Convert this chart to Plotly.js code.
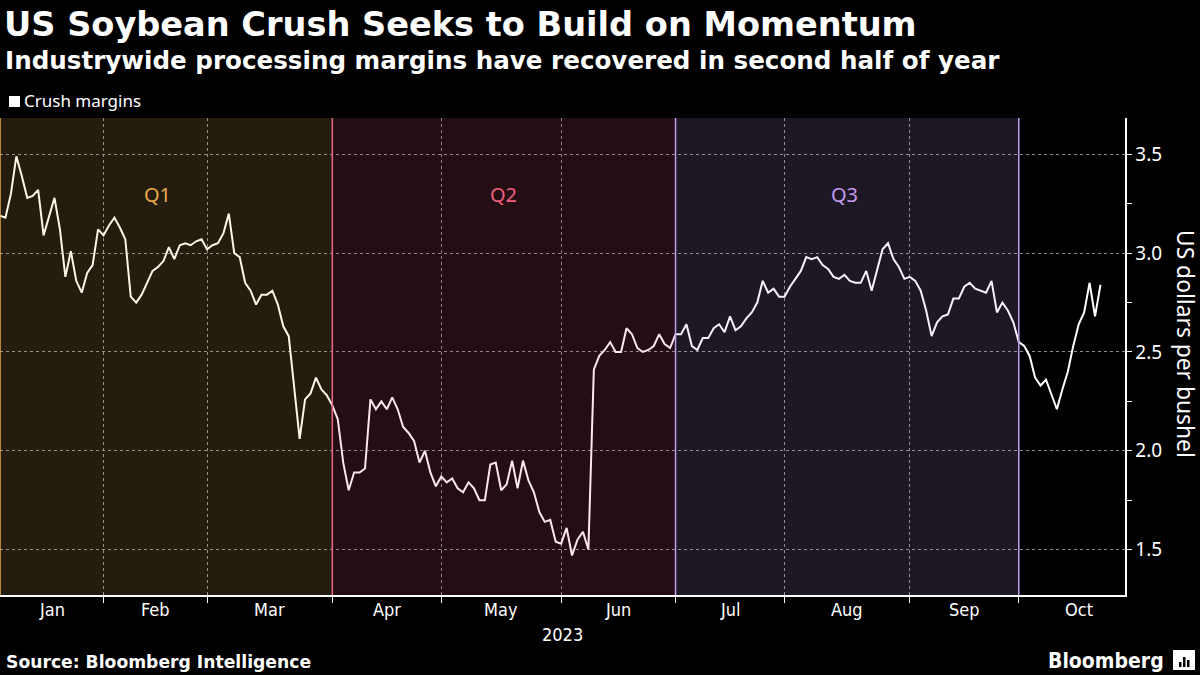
<!DOCTYPE html>
<html><head><meta charset="utf-8">
<script src="https://cdn.plot.ly/plotly-3.0.1.min.js"></script>
<style>html,body{margin:0;padding:0;background:#000;}#chart{width:1200px;height:675px;}</style>
</head><body><div id="chart"></div>
<script>
// ---- DATA ----
const dates = [
'2023-01-04','2023-01-05','2023-01-06','2023-01-09','2023-01-10','2023-01-11','2023-01-12','2023-01-13','2023-01-17','2023-01-18','2023-01-19','2023-01-20','2023-01-23','2023-01-24','2023-01-25','2023-01-26','2023-01-27','2023-01-30','2023-01-31',
'2023-02-01','2023-02-02','2023-02-03','2023-02-06','2023-02-07','2023-02-08','2023-02-09','2023-02-10','2023-02-13','2023-02-14','2023-02-15','2023-02-16','2023-02-17','2023-02-21','2023-02-22','2023-02-23','2023-02-24','2023-02-27','2023-02-28',
'2023-03-01','2023-03-02','2023-03-03','2023-03-06','2023-03-07','2023-03-08','2023-03-09','2023-03-10','2023-03-13','2023-03-14','2023-03-15','2023-03-16','2023-03-17','2023-03-20','2023-03-21','2023-03-22','2023-03-23','2023-03-24','2023-03-27','2023-03-28','2023-03-29','2023-03-30','2023-03-31',
'2023-04-03','2023-04-04','2023-04-05','2023-04-06','2023-04-07','2023-04-10','2023-04-11','2023-04-12','2023-04-13','2023-04-14','2023-04-17','2023-04-18','2023-04-19','2023-04-20','2023-04-21','2023-04-24','2023-04-25','2023-04-26','2023-04-27','2023-04-28',
'2023-05-01','2023-05-02','2023-05-03','2023-05-04','2023-05-05','2023-05-08','2023-05-09','2023-05-10','2023-05-11','2023-05-12','2023-05-15','2023-05-16','2023-05-17','2023-05-18','2023-05-19','2023-05-22','2023-05-23','2023-05-24','2023-05-25','2023-05-26','2023-05-30','2023-05-31',
'2023-06-01','2023-06-02','2023-06-05','2023-06-06','2023-06-07','2023-06-08','2023-06-09','2023-06-12','2023-06-13','2023-06-14','2023-06-15','2023-06-16','2023-06-20','2023-06-21','2023-06-22','2023-06-23','2023-06-26','2023-06-27','2023-06-28','2023-06-29','2023-06-30',
'2023-07-03','2023-07-05','2023-07-06','2023-07-07','2023-07-10','2023-07-11','2023-07-12','2023-07-13','2023-07-14','2023-07-17','2023-07-18','2023-07-19','2023-07-20','2023-07-21','2023-07-24','2023-07-25','2023-07-26','2023-07-27','2023-07-28','2023-07-31',
'2023-08-01','2023-08-02','2023-08-03','2023-08-04','2023-08-07','2023-08-08','2023-08-09','2023-08-10','2023-08-11','2023-08-14','2023-08-15','2023-08-16','2023-08-17','2023-08-18','2023-08-21','2023-08-22','2023-08-23','2023-08-24','2023-08-25','2023-08-28','2023-08-29','2023-08-30','2023-08-31',
'2023-09-01','2023-09-05','2023-09-06','2023-09-07','2023-09-08','2023-09-11','2023-09-12','2023-09-13','2023-09-14','2023-09-15','2023-09-18','2023-09-19','2023-09-20','2023-09-21','2023-09-22','2023-09-25','2023-09-26','2023-09-27','2023-09-28','2023-09-29',
'2023-10-02','2023-10-03','2023-10-04','2023-10-05','2023-10-06','2023-10-09','2023-10-10','2023-10-11','2023-10-12','2023-10-13','2023-10-16','2023-10-17','2023-10-18','2023-10-19','2023-10-20','2023-10-23'
];
const crushMargins = [
3.19,3.18,3.30,3.49,3.39,3.28,3.29,3.32,3.09,3.18,3.28,3.12,2.88,3.01,2.86,2.80,2.90,2.94,3.12,
3.09,3.14,3.18,3.13,3.07,2.78,2.75,2.79,2.85,2.91,2.93,2.96,3.03,2.97,3.04,3.05,3.04,3.06,3.07,
3.02,3.04,3.05,3.10,3.20,3.00,2.98,2.85,2.81,2.74,2.79,2.79,2.81,2.74,2.63,2.58,2.32,2.06,2.26,2.29,2.37,2.31,2.28,
2.23,2.16,1.94,1.80,1.89,1.89,1.91,2.26,2.21,2.25,2.21,2.27,2.21,2.12,2.09,2.05,1.94,2.00,1.89,1.82,
1.87,1.84,1.86,1.81,1.79,1.84,1.81,1.75,1.75,1.93,1.94,1.80,1.83,1.95,1.81,1.95,1.85,1.79,1.69,1.64,1.65,1.54,
1.53,1.61,1.47,1.55,1.59,1.50,2.41,2.48,2.51,2.55,2.50,2.50,2.62,2.59,2.52,2.50,2.51,2.53,2.59,2.54,2.52,
2.59,2.59,2.64,2.53,2.51,2.57,2.57,2.62,2.64,2.60,2.68,2.61,2.63,2.67,2.70,2.75,2.86,2.80,2.82,2.78,
2.78,2.83,2.87,2.91,2.98,2.97,2.98,2.94,2.92,2.88,2.87,2.89,2.86,2.85,2.85,2.91,2.81,2.92,3.02,3.05,2.97,2.93,2.87,
2.88,2.86,2.81,2.71,2.58,2.65,2.68,2.69,2.77,2.77,2.83,2.85,2.82,2.81,2.80,2.86,2.70,2.75,2.71,2.65,
2.55,2.53,2.48,2.37,2.33,2.36,2.28,2.21,2.31,2.40,2.53,2.64,2.70,2.85,2.68,2.84
];
const seriesName = 'Crush margins';
const marketHolidays = ['2023-01-02','2023-01-16','2023-02-20','2023-05-29','2023-06-19','2023-07-04','2023-09-04'];
const monthLabels = ['Jan','Feb','Mar','Apr','May','Jun','Jul','Aug','Sep','Oct'];
const quarterLabels = ['Q1','Q2','Q3'];
const quarterStarts = ['2023-01-01','2023-04-01','2023-07-01'];
const quarterEnds = ['2023-04-01','2023-07-01','2023-10-01'];
const chartYear = 2023;
const yearLabel = '2023';
const titleText = 'US Soybean Crush Seeks to Build on Momentum';
const subtitleText = 'Industrywide processing margins have recovered in second half of year';
const yTitleText = 'US dollars per bushel';
const sourceText = 'Source: Bloomberg Intelligence';
const brandText = 'Bloomberg';

// ---- STYLE / LAYOUT ----
const W = 1200, H = 675;
const M = {l: 0, r: 75, t: 118, b: 80};
const PW = W - M.l - M.r, PH = H - M.t - M.b;
const px = x => (x - M.l) / PW;           // pixel -> paper x
const py = y => (H - M.b - y) / PH;       // pixel -> paper y
const quarterColors = ['240,185,100', '240,90,130', '200,160,250'];
const quarterLineColors = ['#e9a945', '#ec6487', '#c49cf2'];
const quarterTextColors = ['#eeac4c', '#f2607f', '#c79af2'];
const sans = '"Noto Sans", "Open Sans", sans-serif';
const bold = '"DejaVu Sans", sans-serif';
const cond = '"DejaVu Sans Condensed", "Liberation Sans Narrow", sans-serif';

const DAY = 86400000;
const toMs = d => new Date(d + 'T00:00:00Z').getTime();
const msToStr = ms => new Date(ms).toISOString().slice(0, 19).replace('T', ' ');
const edgeOf = d => { const ms = toMs(d); return new Date(ms).getUTCDay() === 0 ? msToStr(ms - DAY) : d; };

const axisStart = dates[0];
const axisEnd = '2023-10-27 12:00';
const breaks = [{bounds: ['sat', 'mon']}, {values: marketHolidays}];

// month label positions: centre of each month's span on the (business-day) axis
const holidaySet = new Set(marketHolidays);
function axisDays(startMs, endMs) {
  const out = [];
  for (let t = startMs; t < endMs; t += DAY) {
    const d = new Date(t), wd = d.getUTCDay();
    const s = d.toISOString().slice(0, 10);
    if (wd === 0 || wd === 6 || holidaySet.has(s) || t < toMs(axisStart)) continue;
    out.push(t);
  }
  return out;
}
const monthMid = monthLabels.map((m, k) => {
  const days = axisDays(Date.UTC(chartYear, k, 1), Date.UTC(chartYear, k + 1, 1));
  const h = days.length / 2;
  return msToStr(days[Math.floor(h)] + (h - Math.floor(h)) * DAY);
});

const shapes = [];
const annotations = [];

quarterLabels.forEach((q, k) => {
  shapes.push({type: 'rect', xref: 'x', yref: 'paper', x0: quarterStarts[k], x1: edgeOf(quarterEnds[k]), y0: 0, y1: 1,
    fillcolor: 'rgba(' + quarterColors[k] + ',0.15)', line: {width: 0}, layer: 'above'});
  const edge = toMs(quarterStarts[k]) < toMs(axisStart) ? axisStart : edgeOf(quarterStarts[k]);
  shapes.push({type: 'line', xref: 'x', yref: 'paper', x0: edge, x1: edge, y0: 0, y1: 1,
    line: {color: quarterLineColors[k], width: 1.5}, layer: 'above'});
  const mid = msToStr((toMs(quarterStarts[k]) + toMs(quarterEnds[k])) / 2);
  annotations.push({xref: 'x', yref: 'paper', x: mid, y: py(194), text: q, showarrow: false,
    font: {family: sans, size: 20, color: quarterTextColors[k]}, xanchor: 'center', yanchor: 'middle'});
});
const lastEnd = edgeOf(quarterEnds[quarterEnds.length - 1]);
shapes.push({type: 'line', xref: 'x', yref: 'paper', x0: lastEnd, x1: lastEnd, y0: 0, y1: 1,
  line: {color: quarterLineColors[2], width: 1.5}, layer: 'above'});

// month tick labels, centred in each month
monthLabels.forEach((m, k) => {
  annotations.push({xref: 'x', yref: 'paper', x: monthMid[k], y: py(609), text: m, showarrow: false,
    xanchor: 'center', yanchor: 'middle', font: {family: cond, size: 18, color: '#ffffff'}});
});

// legend swatch
shapes.push({type: 'rect', xref: 'paper', yref: 'paper', x0: px(9), x1: px(20), y0: py(107), y1: py(96),
  fillcolor: '#ffffff', line: {width: 0}});
annotations.push({xref: 'paper', yref: 'paper', x: px(22), y: py(101), text: seriesName, showarrow: false,
  xanchor: 'left', yanchor: 'middle', font: {family: sans, size: 17, color: '#ffffff'}});
// subtitle
annotations.push({xref: 'paper', yref: 'paper', x: px(3), y: py(60), text: subtitleText, showarrow: false,
  xanchor: 'left', yanchor: 'middle', font: {family: bold, size: 24.6, weight: 'bold', color: '#ffffff'}});
// year label
annotations.push({xref: 'paper', yref: 'paper', x: 0.5, y: py(634), text: yearLabel, showarrow: false,
  xanchor: 'center', yanchor: 'middle', font: {family: cond, size: 18, color: '#ffffff'}});
// y title
annotations.push({xref: 'paper', yref: 'paper', x: px(1186), y: py(344), text: yTitleText, showarrow: false,
  textangle: 90, xanchor: 'center', yanchor: 'middle', font: {family: sans, size: 22.8, color: '#ffffff'}});
// source
annotations.push({xref: 'paper', yref: 'paper', x: px(4), y: py(662), text: sourceText, showarrow: false,
  xanchor: 'left', yanchor: 'middle', font: {family: bold, size: 17.2, weight: 'bold', color: '#ffffff'}});
// brand
annotations.push({xref: 'paper', yref: 'paper', x: px(1166), y: py(661), text: brandText, showarrow: false,
  xanchor: 'right', yanchor: 'middle', font: {family: cond, size: 21, weight: 'bold', color: '#ffffff'}});
// brand icon
shapes.push({type: 'rect', xref: 'paper', yref: 'paper', x0: px(1173), x1: px(1195), y0: py(670), y1: py(650),
  fillcolor: '#ffffff', line: {width: 0}});
[[1179, 662], [1183, 657], [1187, 660]].forEach(b => {
  shapes.push({type: 'rect', xref: 'paper', yref: 'paper', x0: px(b[0]), x1: px(b[0] + 2.5), y0: py(667), y1: py(b[1]),
    fillcolor: '#000000', line: {width: 0}});
});

const trace = {
  x: dates, y: crushMargins, type: 'scatter', mode: 'lines', name: seriesName,
  line: {color: '#ffffff', width: 2}, hoverinfo: 'skip'
};

const layout = {
  width: W, height: H,
  paper_bgcolor: '#000000', plot_bgcolor: '#000000',
  margin: M,
  showlegend: false,
  title: {text: titleText, xref: 'paper', x: px(4), xanchor: 'left', yref: 'container', y: 1 - 24 / H, yanchor: 'middle',
    font: {family: bold, size: 33.6, weight: 'bold', color: '#ffffff'}},
  xaxis: {
    type: 'date', range: [axisStart, axisEnd], rangebreaks: breaks,
    tick0: '2023-01-01', dtick: 'M1', showticklabels: false,
    showgrid: true, gridcolor: '#8a8a8a', griddash: '3px,3px', gridwidth: 1,
    showline: true, linecolor: '#ffffff', linewidth: 1.5,
    ticks: 'outside', ticklen: 6, tickcolor: '#ffffff', tickwidth: 1,
    zeroline: false, fixedrange: true
  },
  yaxis: {
    side: 'right', range: [1.27, 3.684], tick0: 1.5, dtick: 0.5, tickformat: '.1f',
    showgrid: true, gridcolor: '#8a8a8a', griddash: '3px,3px', gridwidth: 1,
    showline: true, linecolor: '#ffffff', linewidth: 1.5,
    ticks: 'outside', ticklen: 5, tickcolor: '#ffffff',
    minor: {dtick: 0.25, tick0: 1.5, ticks: 'outside', ticklen: 5, tickcolor: '#ffffff', showgrid: false},
    tickfont: {family: sans, size: 19, color: '#ffffff'},
    zeroline: false, fixedrange: true
  },
  shapes: shapes,
  annotations: annotations
};

Plotly.newPlot('chart', [trace], layout, {staticPlot: true, displayModeBar: false});
</script>
</body></html>
